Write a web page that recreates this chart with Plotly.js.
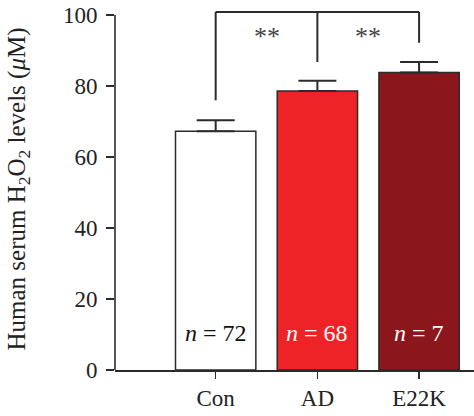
<!DOCTYPE html>
<html><head><meta charset="utf-8">
<script src="https://cdn.plot.ly/plotly-3.0.1.min.js"></script>
<style>html,body{margin:0;padding:0;background:#fff}#chart{width:474px;height:416px}</style>
</head><body><div id="chart"></div>
<script>
var groups = ["Con", "AD", "E22K"];
var means = [67.3, 78.6, 83.8];
var sems = [3.1, 2.9, 3.0];
var nLabels = ["72", "68", "7"];
var barColors = ["#ffffff", "#ee2328", "#8b161b"];
var nTextColors = ["#111111", "#ffffff", "#ffffff"];
var yTicks = [0, 20, 40, 60, 80, 100];
// significance brackets: top level and drop endpoints per group
var bracketTop = 100.9;
var bracketDrops = [76, 86.8, 92.2];
var stars = [{pos: 0.5, label: "**"}, {pos: 1.5, label: "**"}];
var starY = 94;
var nLabelY = 10.5;

var ink = "#2b2b2b";
var font = "Liberation Serif, DejaVu Serif, serif";

var trace = {
  type: "bar", x: groups, y: means, width: 0.79,
  marker: {color: barColors, line: {color: ink, width: 1.5}},
  error_y: {type: "data", symmetric: false, array: sems, arrayminus: sems.map(function(){return 0;}),
            color: ink, thickness: 2, width: 19},
  hoverinfo: "none"
};

var shapes = [];
shapes.push({type: "line", xref: "paper", yref: "y", x0: 0, x1: 0, y0: 0, y1: yTicks[yTicks.length-1], line: {color: ink, width: 1.6}});
shapes.push({type: "line", xref: "x", yref: "y", x0: groups[0], x1: groups[2], y0: bracketTop, y1: bracketTop, line: {color: ink, width: 2}});
groups.forEach(function(g, i){
  shapes.push({type: "line", xref: "x", yref: "y", x0: g, x1: g, y0: bracketDrops[i], y1: bracketTop, line: {color: ink, width: 2}});
});

var annotations = [];
stars.forEach(function(s){
  annotations.push({x: s.pos, y: starY, xref: "x", yref: "y", text: s.label, showarrow: false,
    font: {family: font, size: 26, color: "#444"}, yanchor: "middle"});
});
groups.forEach(function(g, i){
  annotations.push({x: g, y: nLabelY, xref: "x", yref: "y", text: "<i>n</i> = " + nLabels[i], showarrow: false,
    font: {family: font, size: 24, color: nTextColors[i]}, yanchor: "middle"});
});

var layout = {
  width: 474, height: 416,
  margin: {l: 115, r: 0, t: 8, b: 46},
  paper_bgcolor: "#fff", plot_bgcolor: "#fff",
  showlegend: false,
  font: {family: font, size: 23, color: "#222"},
  xaxis: {range: [-0.99, 2.54], showline: true, linecolor: ink, linewidth: 1.6,
          ticks: "outside", ticklen: 7, tickwidth: 1.6, tickcolor: ink, showgrid: false, zeroline: false,
          tickfont: {family: font, size: 23, color: "#222"}},
  yaxis: {range: [0, 102], showline: false, tickvals: yTicks, ticktext: yTicks.map(String),
          ticks: "outside", ticklen: 8, tickwidth: 1.6, tickcolor: ink, showgrid: false, zeroline: false,
          ticklabelstandoff: 4,
          tickfont: {family: font, size: 23, color: "#222"},
          title: {text: "Human serum H<sub>2</sub>O<sub>2</sub> levels (<i>μ</i>M)", font: {family: font, size: 25, color: "#222"}, standoff: 30}},
  shapes: shapes, annotations: annotations
};
Plotly.newPlot("chart", [trace], layout, {displayModeBar: false, staticPlot: true});
</script></body></html>
